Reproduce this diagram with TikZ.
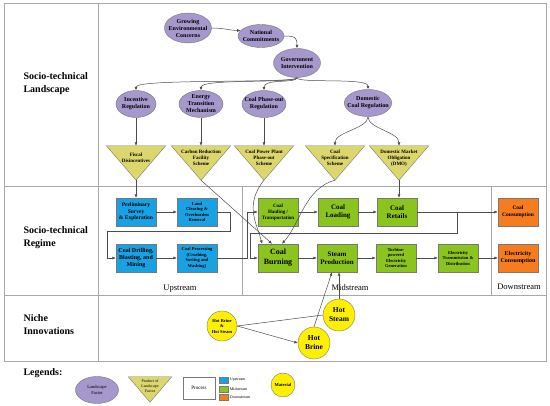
\documentclass[tikz,border=0pt]{standalone}
\usepackage{fontspec}
\setmainfont{Liberation Serif}
\usetikzlibrary{arrows.meta}
\usetikzlibrary{shapes.geometric}
\usetikzlibrary{positioning,backgrounds}

\definecolor{landfill}{RGB}{166,151,204}
\definecolor{prodfill}{RGB}{219,215,110}
\definecolor{upfill}{RGB}{24,162,228}
\definecolor{midfill}{RGB}{140,196,30}
\definecolor{downfill}{RGB}{246,124,30}
\definecolor{matfill}{RGB}{255,240,0}
\definecolor{rulegray}{RGB}{168,168,168}
\definecolor{edgegray}{RGB}{120,120,120}

\newcommand{\fsz}[2]{\fontsize{#1}{#2}\selectfont}

\begin{document}
\begin{tikzpicture}[x=1pt, y=-1pt,
    land/.style={draw=edgegray, fill=landfill, ellipse, inner xsep=-4, inner ysep=-1, minimum width=46, minimum height=27, align=center, font=\bfseries\fsz{6}{7}},
    prod/.style={minimum width=59, minimum height=34, inner sep=0, text depth=10, align=center, font=\bfseries\fsz{5}{6}},
    prodshape/.style={draw=edgegray, fill=prodfill},
    box/.style={draw=edgegray, minimum width=40, minimum height=28, inner sep=1, align=center, font=\bfseries\fsz{5.5}{6.5}},
    up/.style={box, fill=upfill},
    mid/.style={box, fill=midfill},
    down/.style={box, fill=downfill},
    mat/.style={circle, draw=edgegray, fill=matfill, inner sep=0, align=center, font=\bfseries\fsz{7.5}{9}},
    flow/.style={draw=black!70, line width=0.5, -{Latex[length=3.5, width=3]}},
    plain/.style={draw=black!70, line width=0.5},
    rule/.style={draw=rulegray, line width=1},
    rowlabel/.style={anchor=west, align=left, font=\bfseries\fsz{10}{13}},
    streamlabel/.style={font=\fsz{8.5}{10}}]

  \useasboundingbox (0,0) rectangle (550,406);

  % frame of the three levels
  \draw[rule] (4,4) rectangle (546,362);
  \draw[rule] (98,4) -- (98,362);
  \draw[rule] (4,187) -- (546,187);
  \draw[rule] (4,296) -- (546,296);
  \draw[rule] (242,187) -- (242,296);
  \draw[rule] (491,187) -- (491,296);

  \node[rowlabel] (lscape) at (20,84) {Socio-technical\\Landscape};
  \node[rowlabel] (regime) at (20,238) {Socio-technical\\Regime};
  \node[rowlabel] (niche) at (20,325) {Niche\\Innovations};

  % landscape factors
  \node[land, minimum width=47, minimum height=30] (grow) at (188,28) {Growing\\Environmental\\Concerns};
  \node[land, minimum height=23] (nat) at (261,36) {National\\Commitments};
  \node[land, minimum width=47, minimum height=29] (gov) at (297,63) {Government\\Intervention};
  \node[land, minimum width=40] (inc) at (136,104) {Incentive\\Regulation};
  \node[land, minimum width=44] (ener) at (201,104) {Energy\\Transition\\Mechanism};
  \node[land, minimum width=44] (phase) at (264,104) {Coal Phase-out\\Regulation};
  \node[land, minimum width=47] (dom) at (368,103) {Domestic\\Coal Regulation};

  % products of landscape factors
  \node[prod] (fiscal) at (136,163) {Fiscal\\Disincentives};
  \node[prod] (carbon) at (201,163) {Carbon Reduction\\Facility\\Scheme};
  \node[prod] (cppp) at (264,163) {Coal Power Plant\\Phase-out\\Scheme};
  \node[prod] (spec) at (335,163) {Coal\\Specification\\Scheme};
  \node[prod] (dmo) at (399,163) {Domestic Market\\Obligation\\(DMO)};

  % upstream
  \node[up] (prelim) at (136,212) {Preliminary\\Survey\\\& Exploration};
  \node[up, font=\bfseries\fsz{4.5}{5.5}] (clear) at (197,212) {Land\\Clearing \&\\Overburden\\Removal};
  \node[up, font=\bfseries\fsz{6}{7}] (drill) at (136,258) {Coal Drilling,\\Blasting, and\\Mining};
  \node[up, font=\bfseries\fsz{4.5}{5.5}] (proc) at (197,258) {Coal Processing\\(Crushing,\\Sorting and\\Washing)};

  % midstream
  \node[mid, font=\bfseries\fsz{5}{6}] (haul) at (278,212) {Coal\\Hauling /\\Transportation};
  \node[mid, font=\bfseries\fsz{7}{8.5}] (load) at (338,212) {Coal\\Loading};
  \node[mid, font=\bfseries\fsz{7}{8.5}] (retail) at (397,212) {Coal\\Retails};
  \node[mid, font=\bfseries\fsz{8}{10}] (burn) at (278,258) {Coal\\Burning};
  \node[mid, font=\bfseries\fsz{7}{8.5}] (steamp) at (337,258) {Steam\\Production};
  \node[mid, font=\bfseries\fsz{4.5}{5.5}] (turb) at (396,258) {Turbine-\\powered\\Electricity\\Generation};
  \node[mid, font=\bfseries\fsz{4.5}{5.5}] (trans) at (458,258) {Electricity\\Transmission \&\\Distribution};

  % downstream
  \node[down, font=\bfseries\fsz{5.5}{7}] (ccons) at (518,212) {Coal\\Consumption};
  \node[down, font=\bfseries\fsz{6}{7}] (econs) at (518,258) {Electricity\\Consumption};

  \node[streamlabel] (ustream) at (180,289) {Upstream};
  \node[streamlabel] (mstream) at (350,288) {Midstream};
  \node[streamlabel] (dstream) at (519,287) {Downstream};

  % niche materials
  \node[mat, minimum size=30, font=\bfseries\fsz{4.5}{5.5}] (hbhs) at (222,326) {Hot Brine\\\&\\Hot Steam};
  \node[mat, minimum size=32] (hsteam) at (339,315) {Hot\\Steam};
  \node[mat, minimum size=32] (brine) at (314,343) {Hot\\Brine};

  % legends
  \node[anchor=west, font=\bfseries\fsz{10}{12}] (legtitle) at (20,373) {Legends:};
  \node[land, minimum width=43, minimum height=27, font=\fsz{4.5}{5.5}] (lland) at (97,390) {Landscape\\Factor};
  \node[prod, minimum width=43, minimum height=25, text depth=7, font=\fsz{4}{4.8}] (lprod) at (150,389.5) {Product of\\Landscape\\Factor};
  \node[box, fill=white, minimum width=32, minimum height=22, font=\fsz{5}{6}] (lproc) at (199,388) {Process};
  \node[draw=edgegray, fill=upfill, minimum width=9, minimum height=6, inner sep=0] (lup) at (223.5,380) {};
  \node[draw=edgegray, fill=midfill, minimum width=9, minimum height=6, inner sep=0] (lmid) at (223.5,389) {};
  \node[draw=edgegray, fill=downfill, minimum width=9, minimum height=6, inner sep=0] (ldown) at (223.5,397) {};
  \node[right=1.5pt of lup, inner sep=0, font=\fsz{4}{5}] (lupt) {Upstream};
  \node[right=1.5pt of lmid, inner sep=0, font=\fsz{4}{5}] (lmidt) {Midstream};
  \node[right=1.5pt of ldown, inner sep=0, font=\fsz{4}{5}] (ldownt) {Downstream};
  \node[mat, minimum size=24, font=\bfseries\fsz{4.5}{5.5}] (lmat) at (283,385) {Material};

  % triangles behind their texts
  \begin{scope}[on background layer]
    \fill[white] (0,0) rectangle (550,406);
    \foreach \n in {fiscal,carbon,cppp,spec,dmo,lprod}
      \filldraw[prodshape] (\n.north west) -- (\n.north east) -- (\n.south) -- cycle;
  \end{scope}

  % landscape links
  \draw[flow] (grow.east) .. controls +(12,0) and +(-10,0) .. (nat.165);
  \draw[flow] (nat.east) .. controls +(12,0) and +(0,-10) .. (gov.north);
  \foreach \n in {inc,ener,phase,dom}
    \draw[flow] (gov.south) .. controls +(0,6) and +(0,-12) .. (\n.north);
  \foreach \a/\b in {inc/fiscal, ener/carbon, phase/cppp}
    \draw[flow] (\a) -- (\b.north);
  \draw[flow] (dom.south) .. controls +(0,12) and +(0,-14) .. (spec.north);
  \draw[flow] (dom.south) .. controls +(0,12) and +(0,-14) .. (dmo.north);

  % into the regime
  \draw[flow] (fiscal.south) -- (prelim.north);
  \draw[flow] (dmo.south) -- (dmo.south |- retail.north);
  \draw[flow] (carbon.south) -- ([xshift=-6]burn.north);
  \draw[flow] (cppp.south) .. controls +(-20,25) and +(-5,-20) .. ([xshift=-16]burn.north);
  \draw[flow] (spec.south) .. controls +(-30,8) and +(18,-20) .. ([xshift=4]burn.north);

  % regime chain
  \draw[flow] (prelim) -- (clear);
  \draw[flow] (clear.east) -- ++(13,0) |- (107,231) |- (drill.west);
  \draw[flow] (drill) -- (proc);
  \draw[flow] (proc.east) -- ++(30,0) |- (haul.west);
  \draw[flow] (haul) -- (load);
  \draw[flow] (load) -- (retail);
  \draw[flow] (retail) -- (ccons);
  \draw[flow] (retail.east) -- ++(40,0) |- (250,233) |- (burn.west);
  \draw[flow] (burn) -- (steamp);
  \draw[flow] (steamp) -- (turb);
  \draw[flow] (turb) -- (trans);
  \draw[flow] (trans) -- (econs);

  % niche links
  \draw[flow] (hbhs.east) -- (brine.west);
  \draw[plain] (hbhs.east) -- (hsteam.west);
  \draw[flow] (brine.north) -- ([xshift=-5]steamp.south);
  \draw[flow] (hsteam.north) -- (hsteam.north |- steamp.south);

\end{tikzpicture}
\end{document}
